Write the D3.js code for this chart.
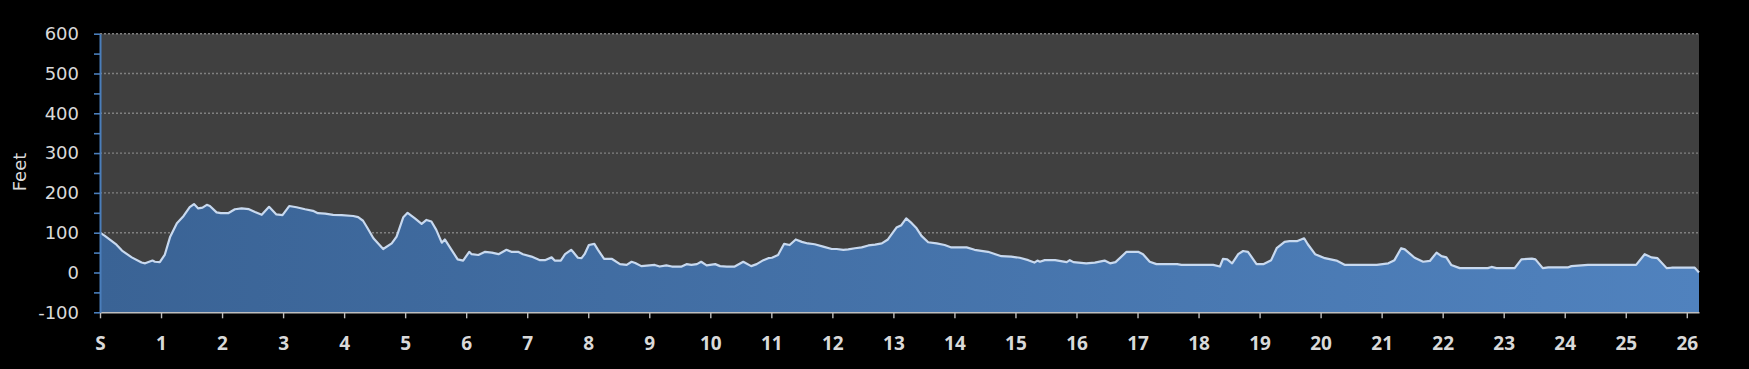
<!DOCTYPE html>
<html>
<head>
<meta charset="utf-8">
<script src="https://cdn.jsdelivr.net/npm/d3@7"></script>
<style>
  html, body { margin: 0; padding: 0; background: #000; }
  svg { display: block; }
</style>
</head>
<body>
<svg id="chart" width="1749" height="369"></svg>
<script>
// ---- data ----
const miles = [0.00,0.08,0.27,0.36,0.52,0.68,0.74,0.86,0.90,0.98,1.06,1.15,1.26,1.37,1.47,1.54,1.61,1.68,1.75,1.80,1.91,1.98,2.10,2.21,2.32,2.44,2.54,2.65,2.77,2.89,2.99,3.10,3.22,3.36,3.49,3.57,3.69,3.82,3.96,4.15,4.23,4.31,4.37,4.48,4.64,4.78,4.86,4.97,5.04,5.16,5.27,5.35,5.43,5.51,5.60,5.65,5.76,5.86,5.95,6.05,6.09,6.20,6.31,6.42,6.53,6.66,6.74,6.85,6.93,7.07,7.21,7.29,7.40,7.45,7.55,7.62,7.72,7.75,7.83,7.89,7.94,8.01,8.10,8.16,8.26,8.39,8.52,8.63,8.71,8.77,8.87,9.09,9.17,9.28,9.37,9.53,9.61,9.69,9.78,9.85,9.94,10.08,10.16,10.27,10.40,10.54,10.67,10.76,10.87,10.95,11.01,11.11,11.21,11.30,11.40,11.50,11.60,11.71,11.85,11.99,12.07,12.18,12.26,12.37,12.48,12.59,12.70,12.81,12.91,13.05,13.13,13.21,13.30,13.38,13.46,13.57,13.71,13.84,13.95,14.20,14.33,14.55,14.77,14.93,15.07,15.21,15.31,15.36,15.40,15.48,15.65,15.84,15.89,15.95,16.16,16.30,16.46,16.55,16.64,16.82,17.01,17.09,17.20,17.31,17.65,17.72,18.24,18.35,18.40,18.47,18.55,18.65,18.73,18.81,18.95,19.06,19.19,19.28,19.41,19.49,19.62,19.73,19.79,19.91,20.07,20.26,20.40,20.92,21.11,21.21,21.32,21.38,21.54,21.68,21.79,21.90,21.98,22.06,22.14,22.28,22.74,22.80,22.88,23.18,23.29,23.46,23.52,23.64,23.73,24.06,24.11,24.38,25.17,25.31,25.42,25.52,25.67,25.75,26.13,26.20];
const feet  = [100,92,70,55,38,25,23,30,27,26,44,90,124,142,164,172,161,163,170,167,151,149,149,159,161,159,152,145,165,146,144,167,164,159,155,149,148,145,144,142,139,130,115,86,59,73,90,139,150,136,122,132,128,107,75,83,57,33,30,52,46,44,52,50,46,57,52,52,46,40,31,31,38,30,30,46,57,52,37,36,46,69,72,57,34,34,21,19,27,24,16,19,15,18,15,15,21,19,21,27,18,21,16,15,15,27,16,21,31,36,37,44,72,69,83,77,73,71,65,59,59,57,58,61,63,68,70,73,83,113,119,136,124,111,92,76,73,69,63,63,57,52,41,40,37,31,25,30,27,31,31,26,31,26,23,25,30,23,26,52,52,46,27,21,21,19,19,15,34,33,23,46,54,52,21,21,31,61,77,79,79,86,71,46,36,30,19,19,23,31,61,58,37,27,29,50,41,38,19,11,11,14,11,11,33,35,33,11,13,13,16,19,19,46,38,36,11,12,12,0];
const xTickValues = d3.range(0, 27);
const xTickLabels = xTickValues.map(d => d === 0 ? "S" : String(d));
const yMajorTicks = [-100, 0, 100, 200, 300, 400, 500, 600];
const yTickLabels = ["-100", "0", "100", "200", "300", "400", "500", "600"];
const yMinorTicks = [-50, 50, 150, 250, 350, 450, 550];
const yAxisTitle = "Feet";

const data = miles.map((m, i) => ({ m, f: feet[i] }));

// ---- layout ----
const pLeft = 100, pRight = 1699, pTop = 33.7, pBottom = 312.3;
const svg = d3.select("#chart");

const x = d3.scaleLinear().domain([0, 26.2]).range([pLeft, pRight]);
const y = d3.scaleLinear().domain([-100, 600]).range([pBottom, pTop]);

// plot background
svg.append("rect")
  .attr("x", pLeft).attr("y", pTop)
  .attr("width", pRight - pLeft).attr("height", pBottom - pTop)
  .attr("fill", "#404040");

// gridlines
svg.append("g").selectAll("line")
  .data(yMajorTicks.filter(d => d > -100))
  .join("line")
  .attr("x1", pLeft).attr("x2", pRight)
  .attr("y1", d => y(d)).attr("y2", d => y(d))
  .attr("stroke", "#808080")
  .attr("stroke-width", 1.4)
  .attr("stroke-dasharray", "2,2");

// gradient
const defs = svg.append("defs");
const grad = defs.append("linearGradient")
  .attr("id", "areaGrad")
  .attr("gradientUnits", "userSpaceOnUse")
  .attr("x1", pLeft).attr("x2", pRight).attr("y1", 0).attr("y2", 0);
grad.append("stop").attr("offset", "0%").attr("stop-color", "#3a6395");
grad.append("stop").attr("offset", "100%").attr("stop-color", "#5082be");

const area = d3.area()
  .x(d => x(d.m))
  .y0(y(-100))
  .y1(d => y(d.f));
svg.append("path")
  .datum(data)
  .attr("d", area)
  .attr("fill", "url(#areaGrad)");

const line = d3.line().x(d => x(d.m)).y(d => y(d.f));
svg.append("path")
  .datum(data)
  .attr("d", line)
  .attr("fill", "none")
  .attr("stroke", "#c8d9ef")
  .attr("stroke-width", 2.2)
  .attr("stroke-linejoin", "round");

// x axis
const xAxis = d3.axisBottom(x)
  .tickValues(xTickValues)
  .tickFormat((d, i) => xTickLabels[i])
  .tickSize(6)
  .tickSizeOuter(0);
const gx = svg.append("g")
  .attr("transform", `translate(0,${pBottom})`)
  .call(xAxis);
gx.select(".domain").attr("stroke", "#bfbfbf").attr("stroke-width", 1.6);
gx.selectAll(".tick line").attr("stroke", "#bfbfbf").attr("stroke-width", 1.4);
gx.selectAll(".tick text")
  .attr("y", 37.7).attr("dy", null)
  .attr("fill", "#d9d9d9")
  .attr("font-family", "'Open Sans', sans-serif")
  .attr("font-weight", "bold")
  .attr("font-size", "19px");

// y axis
const yAxis = d3.axisLeft(y)
  .tickValues(yMajorTicks)
  .tickFormat((d, i) => yTickLabels[i])
  .tickSize(6)
  .tickPadding(15)
  .tickSizeOuter(0);
const gy = svg.append("g")
  .attr("transform", `translate(${pLeft},0)`)
  .call(yAxis);
gy.select(".domain").attr("stroke", "#4a7ebb").attr("stroke-width", 2);
gy.selectAll(".tick line").attr("stroke", "#4a7ebb").attr("stroke-width", 1.6);
gy.selectAll(".tick text")
  .attr("fill", "#d9d9d9")
  .attr("font-family", "'DejaVu Sans', sans-serif")
  .attr("font-size", "18px");

// minor ticks
const yMinor = d3.axisLeft(y).tickValues(yMinorTicks).tickSize(6).tickFormat("").tickSizeOuter(0);
const gym = svg.append("g").attr("transform", `translate(${pLeft},0)`).call(yMinor);
gym.select(".domain").remove();
gym.selectAll(".tick line").attr("stroke", "#4a7ebb").attr("stroke-width", 1.6);

// axis title
svg.append("text")
  .attr("transform", `translate(26,${(pTop + pBottom) / 2 - 1}) rotate(-90)`)
  .attr("text-anchor", "middle")
  .attr("fill", "#d9d9d9")
  .attr("font-family", "'DejaVu Sans', sans-serif")
  .attr("font-size", "18px")
  .text(yAxisTitle);
</script>
</body>
</html>
